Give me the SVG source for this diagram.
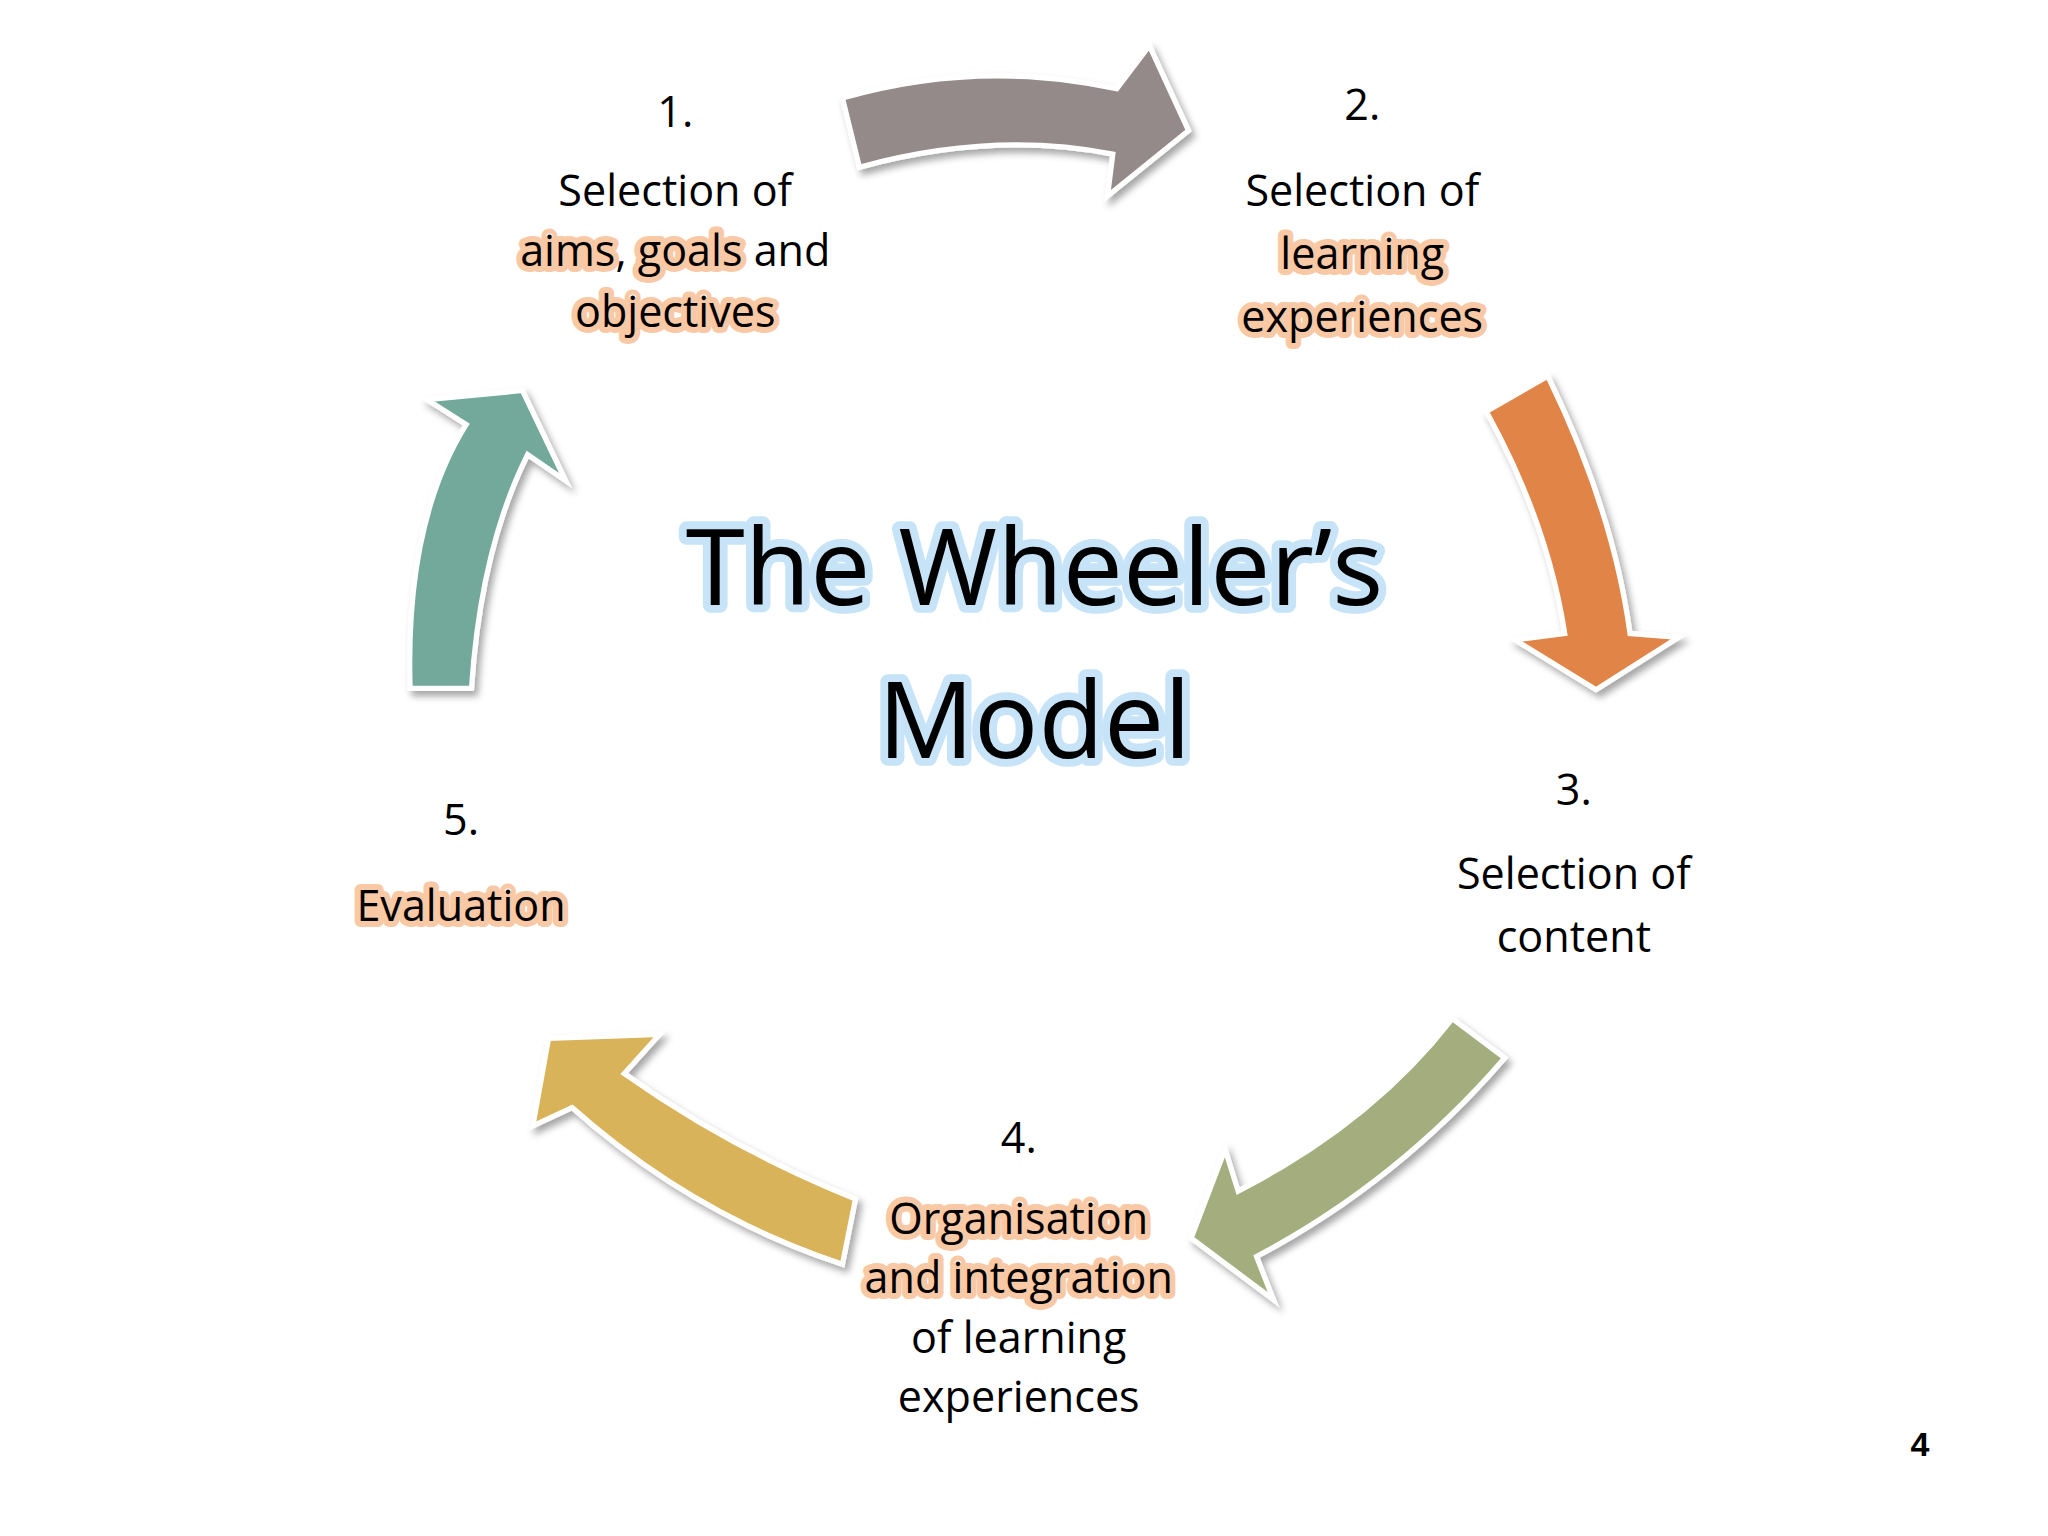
<svg xmlns="http://www.w3.org/2000/svg" width="2048" height="1536" viewBox="0 0 2048 1536">
<defs>
<filter id="sh" x="-20%" y="-20%" width="140%" height="140%"><feDropShadow dx="3" dy="4" stdDeviation="3" flood-color="#000" flood-opacity="0.35"/></filter>
<style>
.ar{stroke:#fff;stroke-width:4;stroke-linejoin:miter;filter:url(#sh)}
.t{font-family:"Open Sans","Noto Sans",sans-serif;font-size:33px;fill:#000;text-anchor:middle}
.hl{stroke:#f9c9a6;stroke-width:9;stroke-linejoin:round;paint-order:stroke}
.ti{font-family:"Open Sans","Noto Sans",sans-serif;font-size:82px;fill:#000;text-anchor:middle;stroke:#c6e3f7;stroke-width:12;stroke-linejoin:round;paint-order:stroke}
</style>
</defs>
<rect width="2048" height="1536" fill="#fff"/>
<g transform="scale(1.3061)">
<g id="connectors">
<path class="ar" fill="#958a8a" d="M645,75 Q750,45 855,68 L880,35 L910,100 L848,150 L852,118 Q760,100 658,128 Z"/>
<path class="ar" fill="#e08447" d="M1138,315 L1185,288 Q1235,390 1248,485 L1285,488 L1222,528 L1160,490 L1198,485 Q1185,400 1138,315 Z"/>
<path class="ar" fill="#a4ad7e" d="M1112,780 L1152,810 Q1070,905 962,962 L975,995 L912,948 L938,880 L948,912 Q1050,860 1112,780 Z"/>
<path class="ar" fill="#d9b35a" d="M655,918 Q560,880 478,822 L505,792 L420,795 L408,862 L438,848 Q530,930 645,968 Z"/>
<path class="ar" fill="#73a99a" d="M314,527 Q310,400 357,325 L327,306 L400,299 L433,368 L404,348 Q368,420 361,527 Z"/>
</g>
<g id="title"><text class="ti" x="792" y="463">The Wheeler’s</text><text class="ti" x="792" y="580">Model</text></g>
<g id="n1"><text class="t" x="517" y="97">1.</text><text class="t" x="517" y="158">Selection of</text><text class="t" x="517" y="204"><tspan class="hl">aims</tspan>, <tspan class="hl">goals</tspan> and</text><text class="t hl" x="517" y="250">objectives</text></g>
<g id="n2"><text class="t" x="1043" y="92">2.</text><text class="t" x="1043" y="158">Selection of</text><text class="t hl" x="1043" y="206">learning</text><text class="t hl" x="1043" y="254">experiences</text></g>
<g id="n3"><text class="t" x="1205" y="616">3.</text><text class="t" x="1205" y="681">Selection of</text><text class="t" x="1205" y="729">content</text></g>
<g id="n4"><text class="t" x="780" y="883">4.</text><text class="t hl" x="780" y="945">Organisation</text><text class="t hl" x="780" y="990">and integration</text><text class="t" x="780" y="1036">of learning</text><text class="t" x="780" y="1081">experiences</text></g>
<g id="n5"><text class="t" x="353" y="639">5.</text><text class="t hl" x="353" y="705">Evaluation</text></g>
<text x="1470" y="1115" font-family="Liberation Sans,Arial,sans-serif" font-weight="bold" font-size="26" text-anchor="middle">4</text>
</g>
</svg>
